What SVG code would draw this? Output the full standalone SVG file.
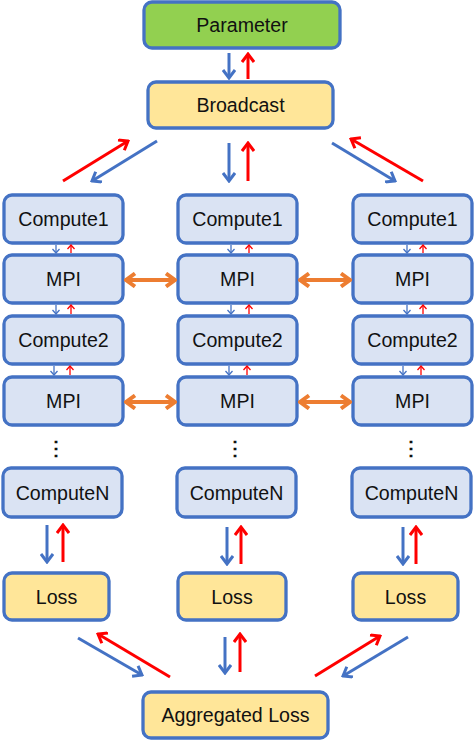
<svg xmlns="http://www.w3.org/2000/svg" width="474" height="742" viewBox="0 0 474 742">
<style>
.box{stroke:#4472C4;stroke-width:3.3}
.param{fill:#92D050}
.yel{fill:#FFE699}
.blu{fill:#DAE3F3}
text{font-family:"Liberation Sans",Arial,sans-serif;font-size:19.6px;fill:#111;text-anchor:middle;dominant-baseline:central}
.b{stroke:#4472C4;stroke-width:3;fill:none;marker-end:url(#hb)}
.r{stroke:#FF0000;stroke-width:3;fill:none;marker-end:url(#hr)}
.bs{stroke:#4472C4;stroke-width:1.3;fill:none;marker-end:url(#hbs)}
.rs{stroke:#FF0000;stroke-width:1.3;fill:none;marker-end:url(#hrs)}
.o{stroke:#ED7D31;stroke-width:4;fill:none;marker-end:url(#ho);marker-start:url(#ho)}
</style>
<defs>
<marker id="hb" markerUnits="userSpaceOnUse" viewBox="0 0 14 14" refX="12" refY="7" markerWidth="14" markerHeight="14" orient="auto"><path d="M4,1 L12,7 L4,13" fill="none" stroke="#4472C4" stroke-width="3"/></marker>
<marker id="hr" markerUnits="userSpaceOnUse" viewBox="0 0 14 14" refX="12" refY="7" markerWidth="14" markerHeight="14" orient="auto"><path d="M4,1 L12,7 L4,13" fill="none" stroke="#FF0000" stroke-width="3"/></marker>
<marker id="hbs" markerUnits="userSpaceOnUse" viewBox="0 0 8 8" refX="7" refY="4" markerWidth="8" markerHeight="8" orient="auto"><path d="M3,0.5 L7,4 L3,7.5" fill="none" stroke="#4472C4" stroke-width="1.3"/></marker>
<marker id="hrs" markerUnits="userSpaceOnUse" viewBox="0 0 8 8" refX="7" refY="4" markerWidth="8" markerHeight="8" orient="auto"><path d="M3,0.5 L7,4 L3,7.5" fill="none" stroke="#FF0000" stroke-width="1.3"/></marker>
<marker id="ho" markerUnits="userSpaceOnUse" viewBox="0 0 16 16" refX="14" refY="8" markerWidth="16" markerHeight="16" orient="auto-start-reverse"><path d="M5,1.5 L14,8 L5,14.5" fill="none" stroke="#ED7D31" stroke-width="4"/></marker>
</defs>

<g id="parameter"><rect class="box param" x="144" y="2" width="196" height="46" rx="8"/><text x="242" y="25">Parameter</text></g>
<g id="broadcast"><rect class="box yel" x="148" y="82" width="185" height="46" rx="8"/><text x="240.5" y="105">Broadcast</text></g>

<g id="compute1-l"><rect class="box blu" x="4" y="195" width="119" height="48" rx="8"/><text x="63.5" y="219">Compute1</text></g>
<g id="compute1-c"><rect class="box blu" x="178" y="195" width="119" height="48" rx="8"/><text x="237.5" y="219">Compute1</text></g>
<g id="compute1-r"><rect class="box blu" x="353" y="195" width="119" height="48" rx="8"/><text x="412.5" y="219">Compute1</text></g>

<g id="mpi1-l"><rect class="box blu" x="4" y="255" width="119" height="48" rx="8"/><text x="63.5" y="279">MPI</text></g>
<g id="mpi1-c"><rect class="box blu" x="178" y="255" width="119" height="48" rx="8"/><text x="237.5" y="279">MPI</text></g>
<g id="mpi1-r"><rect class="box blu" x="353" y="255" width="119" height="48" rx="8"/><text x="412.5" y="279">MPI</text></g>

<g id="compute2-l"><rect class="box blu" x="4" y="316" width="119" height="48" rx="8"/><text x="63.5" y="340">Compute2</text></g>
<g id="compute2-c"><rect class="box blu" x="178" y="316" width="119" height="48" rx="8"/><text x="237.5" y="340">Compute2</text></g>
<g id="compute2-r"><rect class="box blu" x="353" y="316" width="119" height="48" rx="8"/><text x="412.5" y="340">Compute2</text></g>

<g id="mpi2-l"><rect class="box blu" x="4" y="377" width="119" height="48" rx="8"/><text x="63.5" y="401">MPI</text></g>
<g id="mpi2-c"><rect class="box blu" x="178" y="377" width="119" height="48" rx="8"/><text x="237.5" y="401">MPI</text></g>
<g id="mpi2-r"><rect class="box blu" x="353" y="377" width="119" height="48" rx="8"/><text x="412.5" y="401">MPI</text></g>

<g id="dots"><text x="56" y="448" font-weight="bold">⋮</text><text x="235" y="448" font-weight="bold">⋮</text><text x="411" y="448" font-weight="bold">⋮</text></g>

<g id="computeN-l"><rect class="box blu" x="3" y="468" width="119" height="49" rx="8"/><text x="62.5" y="492.5">ComputeN</text></g>
<g id="computeN-c"><rect class="box blu" x="177" y="468" width="119" height="49" rx="8"/><text x="236.5" y="492.5">ComputeN</text></g>
<g id="computeN-r"><rect class="box blu" x="352" y="468" width="119" height="49" rx="8"/><text x="411.5" y="492.5">ComputeN</text></g>

<g id="loss-l"><rect class="box yel" x="4" y="573" width="105" height="47" rx="8"/><text x="56.5" y="596.5">Loss</text></g>
<g id="loss-c"><rect class="box yel" x="178" y="573" width="108" height="47" rx="8"/><text x="232" y="596.5">Loss</text></g>
<g id="loss-r"><rect class="box yel" x="353" y="573" width="105" height="47" rx="8"/><text x="405.5" y="596.5">Loss</text></g>

<g id="aggregated"><rect class="box yel" x="143" y="692" width="185" height="46" rx="8"/><text x="235.5" y="715">Aggregated Loss</text></g>

<g id="connectors">
<line class="b" x1="229" y1="53" x2="229" y2="78"/>
<line class="r" x1="248" y1="79" x2="248" y2="54"/>

<line class="r" x1="63" y1="181" x2="128" y2="141"/>
<line class="b" x1="157" y1="141" x2="92" y2="181"/>
<line class="b" x1="229" y1="143" x2="229" y2="181"/>
<line class="r" x1="248" y1="181" x2="248" y2="143"/>
<line class="b" x1="332" y1="143" x2="395" y2="181"/>
<line class="r" x1="423" y1="181" x2="351" y2="139"/>

<line class="bs" x1="56" y1="245" x2="56" y2="253"/>
<line class="rs" x1="71" y1="253" x2="71" y2="245"/>
<line class="bs" x1="231" y1="245" x2="231" y2="253"/>
<line class="rs" x1="249" y1="253" x2="249" y2="245"/>
<line class="bs" x1="407" y1="245" x2="407" y2="253"/>
<line class="rs" x1="423" y1="253" x2="423" y2="245"/>

<line class="bs" x1="56" y1="305" x2="56" y2="314"/>
<line class="rs" x1="71" y1="314" x2="71" y2="305"/>
<line class="bs" x1="231" y1="305" x2="231" y2="314"/>
<line class="rs" x1="249" y1="314" x2="249" y2="305"/>
<line class="bs" x1="407" y1="305" x2="407" y2="314"/>
<line class="rs" x1="423" y1="314" x2="423" y2="305"/>

<line class="bs" x1="54" y1="366" x2="54" y2="375"/>
<line class="rs" x1="70" y1="375" x2="70" y2="366"/>
<line class="bs" x1="229" y1="366" x2="229" y2="375"/>
<line class="rs" x1="247" y1="375" x2="247" y2="366"/>
<line class="bs" x1="403" y1="366" x2="403" y2="375"/>
<line class="rs" x1="421" y1="375" x2="421" y2="366"/>

<line class="o" x1="126" y1="280" x2="175" y2="280"/>
<line class="o" x1="300" y1="280" x2="350" y2="280"/>
<line class="o" x1="126" y1="402" x2="175" y2="402"/>
<line class="o" x1="300" y1="402" x2="350" y2="402"/>

<line class="b" x1="47" y1="525" x2="47" y2="562"/>
<line class="r" x1="63" y1="562" x2="63" y2="525"/>
<line class="b" x1="227" y1="527" x2="227" y2="564"/>
<line class="r" x1="241" y1="564" x2="241" y2="527"/>
<line class="b" x1="403" y1="527" x2="403" y2="564"/>
<line class="r" x1="416" y1="564" x2="416" y2="527"/>

<line class="b" x1="78" y1="638" x2="142" y2="675"/>
<line class="r" x1="170" y1="677" x2="98" y2="634"/>
<line class="b" x1="225" y1="637" x2="225" y2="673"/>
<line class="r" x1="240" y1="672" x2="240" y2="634"/>
<line class="r" x1="315" y1="676" x2="380" y2="636"/>
<line class="b" x1="408" y1="637" x2="343" y2="676"/>
</g>
</svg>
